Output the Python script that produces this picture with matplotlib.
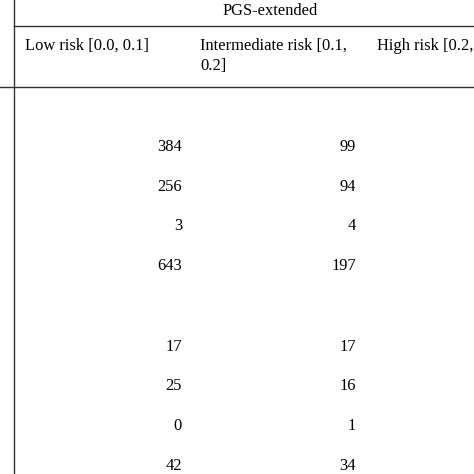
import matplotlib.pyplot as plt

plt.rcParams['font.family'] = ['Liberation Serif', 'DejaVu Serif']

group_title = "PGS-extended"
col_headers = ["Low risk [0.0, 0.1]", "Intermediate risk [0.1,\n0.2]", "High risk [0.2,"]
low_risk = ["384", "256", "3", "643", "17", "25", "0", "42"]
intermediate_risk = ["99", "94", "4", "197", "17", "16", "1", "34"]
row_y = [147, 187, 226, 266, 347, 386, 426, 466]

W, H = 474, 474
fig = plt.figure(figsize=(W / 100, H / 100), dpi=100)
ax = fig.add_axes([0, 0, 1, 1])
ax.set_xlim(0, W)
ax.set_ylim(H, 0)
ax.axis('off')

lc = '#333333'
ax.plot([14, 14], [0, H], color=lc, lw=1)
ax.plot([14, W], [26, 26], color=lc, lw=1)
ax.plot([0, W], [87, 87], color=lc, lw=1)

fs = 11.9
ax.text(270, 11, group_title, ha='center', va='center', fontsize=fs)
for x, label in zip([25, 200, 377], col_headers):
    ax.text(x, 38, label, ha='left', va='top', fontsize=fs, linespacing=1.35)

for y, a, b in zip(row_y, low_risk, intermediate_risk):
    ax.text(182, y, a, ha='right', va='center', fontsize=fs)
    ax.text(356, y, b, ha='right', va='center', fontsize=fs)

fig.savefig('out.png', dpi=100)
